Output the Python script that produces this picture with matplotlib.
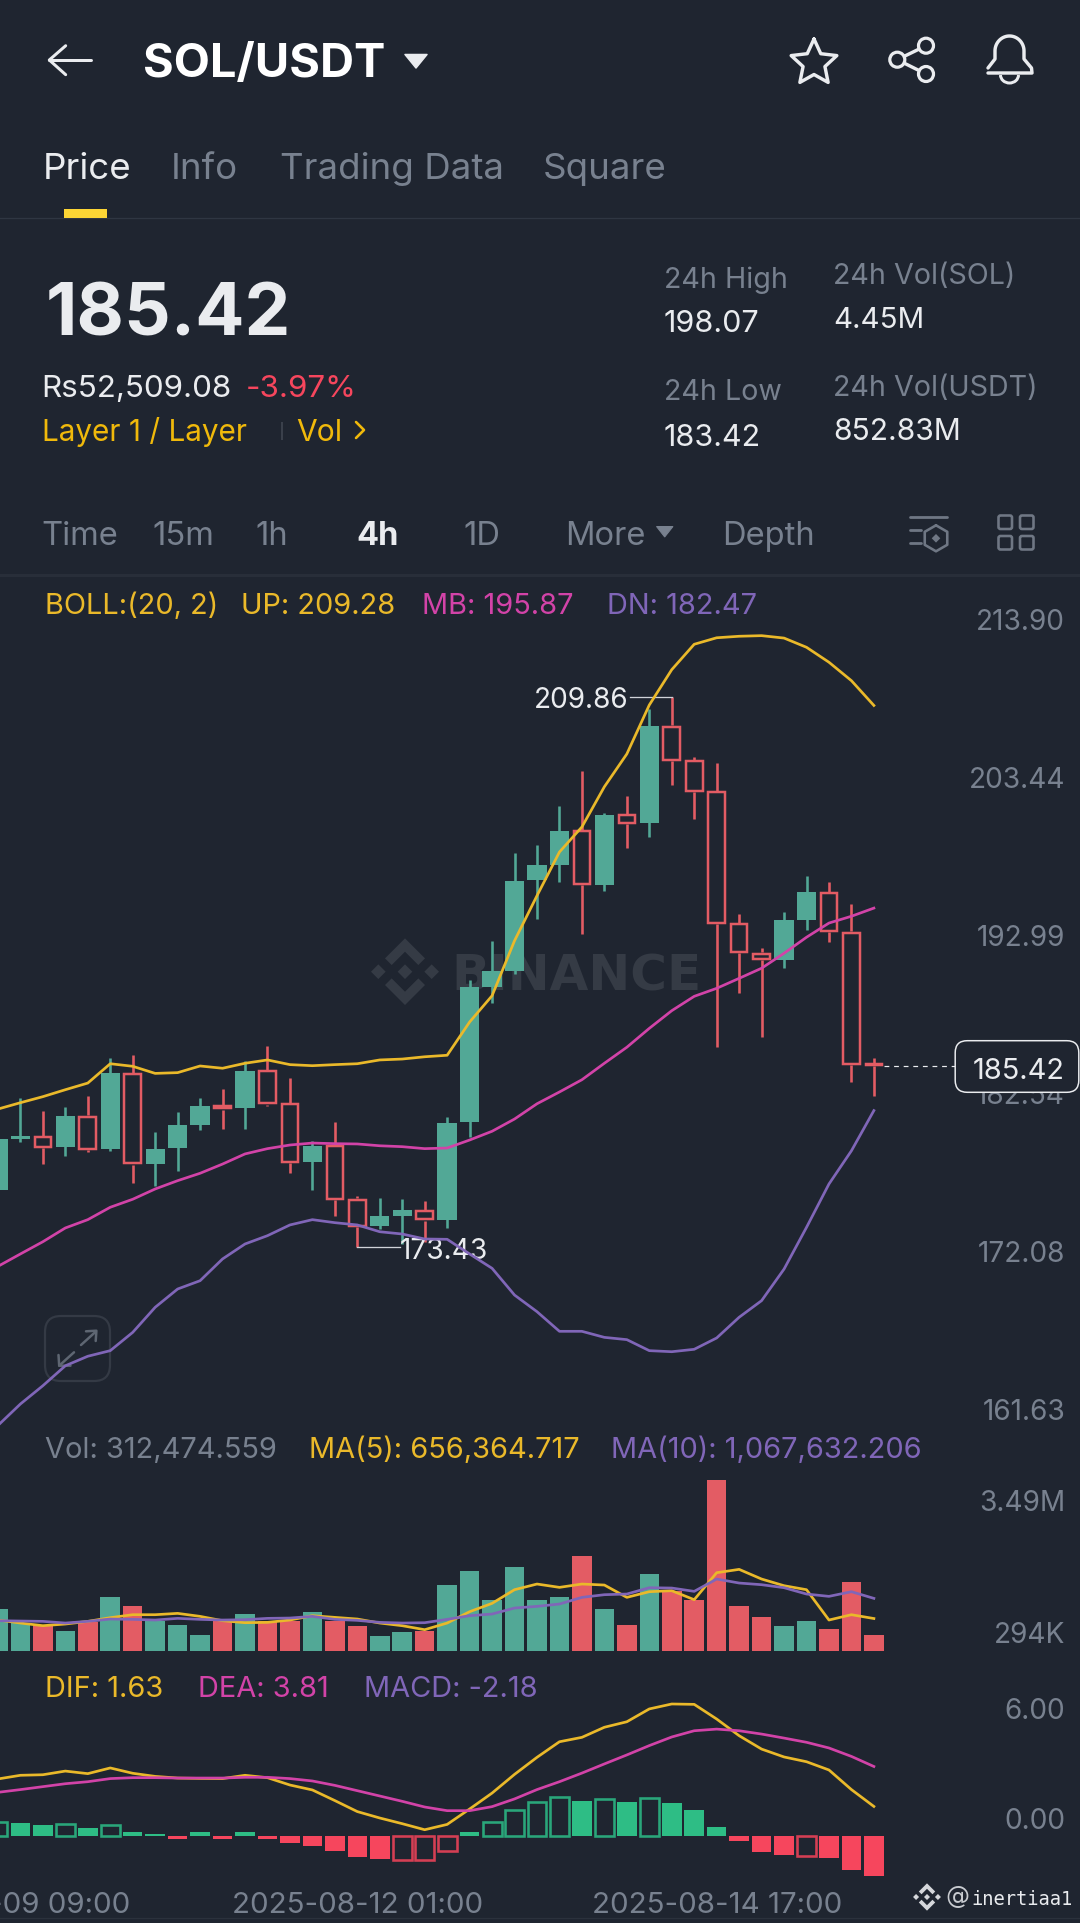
import numpy as np
import matplotlib
matplotlib.use('Agg')
import matplotlib.pyplot as plt
from matplotlib.patches import Rectangle, FancyBboxPatch, Polygon, Circle, Arc

plt.rcParams['font.family'] = ['Inter', 'Lato', 'DejaVu Sans']

BG = '#1f2530'
WHITE = '#eaecef'
GREY = '#78818f'
YELLOW = '#eab92a'
PINK = '#d243a8'
PURPLE = '#8066b8'
UP_C = '#52a896'
DOWN_C = '#e35c64'
MACD_UP = '#2ebd85'
MACD_DOWN = '#f6465d'

# 4h candles
opens = [177.23,180.59,180.81,180.08,182.16,179.95,184.96,178.93,179.97,181.51,182.86,182.66,185.15,182.99,179.05,180.19,176.66,174.81,175.51,175.91,
         175.21,181.69,190.63,191.73,197.70,198.70,201.04,197.42,202.12,201.50,207.97,205.69,203.62,194.88,192.94,192.45,195.10,196.95,194.33,185.60]
closes = [180.59,180.81,179.99,182.11,179.86,184.96,178.89,179.93,181.51,182.77,182.53,185.11,182.86,179.00,180.14,176.53,174.76,175.49,175.87,175.18,
          181.67,190.63,191.73,197.68,198.70,200.95,197.38,202.05,201.45,207.92,205.60,203.55,194.82,192.88,192.41,195.10,196.91,194.27,185.50,185.42]
highs = [180.80,183.30,182.46,182.69,183.41,185.93,186.15,181.03,182.35,183.28,183.90,185.77,186.76,184.63,180.48,181.73,176.84,176.70,176.60,176.48,
         182.06,191.11,193.71,199.50,200.07,202.65,204.92,202.14,203.31,209.05,209.86,205.85,205.45,195.48,193.21,195.59,198.01,197.58,196.14,185.95]
lows = [176.90,180.37,178.91,179.44,179.71,179.79,177.66,177.50,178.49,181.20,181.25,181.25,182.75,178.34,177.19,175.51,173.43,174.63,173.64,173.75,
        174.70,180.74,189.57,191.51,195.18,197.62,194.16,197.02,199.83,200.59,204.02,201.77,186.68,190.25,187.32,191.92,194.44,193.65,184.36,183.41]

boll_up = [182.57,182.99,183.39,183.85,184.29,185.57,185.40,184.93,184.98,185.42,185.27,185.60,185.82,185.51,185.44,185.51,185.57,185.82,185.88,186.03,
           186.13,188.33,190.07,193.71,196.69,199.58,201.24,203.90,206.07,209.31,211.65,213.33,213.76,213.86,213.90,213.74,213.13,212.14,210.92,209.28]
boll_mb = [172.16,172.98,173.79,174.70,175.25,176.07,176.60,177.28,177.83,178.32,178.93,179.60,179.95,180.19,180.32,180.28,180.26,180.14,180.08,179.95,
           179.99,180.52,181.10,181.91,182.92,183.70,184.51,185.60,186.66,187.91,189.08,190.03,190.56,191.22,191.89,192.88,193.94,194.88,195.33,195.87]
boll_dn = [161.63,163.05,164.26,165.58,166.21,166.58,167.79,169.45,170.66,171.21,172.65,173.64,174.19,174.90,175.25,175.05,174.90,174.45,174.30,173.97,
           173.95,172.98,172.03,170.26,169.16,167.86,167.86,167.46,167.31,166.58,166.51,166.67,167.42,168.79,169.89,171.98,174.74,177.61,179.81,182.47]

volume = [850000,564400,523600,394400,578000,1101600,911200,612000,523600,326400,598400,748000,598400,605200,788800,612000,503200,294000,374000,401200,
          1332800,1632000,1026800,1713600,1026800,1088000,1938000,843200,530400,1570800,1224000,1033600,3490000,904400,693600,510000,598400,435200,1407600,312475]
vol_ma5 = [625600,564400,510000,544000,598400,673200,734400,734400,761600,700400,612000,571200,578000,625600,714000,680000,646000,564400,510000,428400,
           564400,795600,965600,1244400,1360000,1292000,1360000,1339600,1088000,1203600,1224000,1040400,1591200,1659200,1462000,1326000,1244400,625600,734400,656365]
vol_ma10 = [612000,605200,598400,564400,598400,646000,639200,625600,659600,639200,625600,632400,659600,666400,700400,639200,618800,578000,564400,571200,
            639200,714000,748000,870400,904400,952000,1088000,1142400,1156000,1285200,1278400,1210400,1462000,1380400,1346400,1285200,1156000,1108400,1203600,1067632]

dif = [3.13,3.33,3.36,3.56,3.42,3.73,3.44,3.27,3.18,3.16,3.15,3.33,3.20,2.80,2.53,1.95,1.35,1.00,0.69,0.36,
       0.65,1.49,2.36,3.38,4.31,5.16,5.40,5.95,6.25,6.95,7.22,7.20,6.40,5.49,4.76,4.33,4.07,3.62,2.55,1.63]
dea = [2.40,2.55,2.71,2.87,2.98,3.15,3.20,3.20,3.18,3.18,3.18,3.22,3.22,3.15,3.02,2.78,2.49,2.20,1.91,1.60,
       1.40,1.40,1.62,2.04,2.55,2.98,3.45,3.95,4.44,4.95,5.42,5.76,5.85,5.76,5.58,5.36,5.13,4.82,4.36,3.81]
macd = [0.80,0.75,0.64,0.69,0.44,0.64,0.22,0.13,-0.16,0.22,-0.16,0.22,-0.16,-0.35,-0.51,-0.82,-1.11,-1.22,-1.27,-1.27,
        -0.80,0.22,0.76,1.45,1.87,2.16,1.95,2.04,1.85,2.07,1.84,1.44,0.51,-0.27,-0.84,-1.02,-1.05,-1.16,-1.82,-2.18]
macd_hollow = [0,3,5,18,19,20,22,23,24,25,27,29,36]

price_ticks = ['213.90','203.44','192.99','182.54','172.08','161.63']
vol_ticks = ['3.49M','294K']
macd_ticks = ['6.00','0.00']
date_labels = {0:'2025-08-09 09:00', 16:'2025-08-12 01:00', 32:'2025-08-14 17:00'}

tabs = ['Price','Info','Trading Data','Square']
intervals = ['Time','15m','1h','4h','1D','More','Depth']

W, H = 1080, 1924
PX = 0.72    # one pixel in points at dpi 100
STEP = 22.46  # candle spacing in px
X0 = -2.05
AXIS_PX = 28
LEGEND_PX = 29
LINE_W = 2.7

fig = plt.figure(figsize=(W/100, H/100), dpi=100, facecolor=BG)

def panel(top, bottom, ymax, ymin):
    ax = fig.add_axes([0, 1-bottom/H, 1, (bottom-top)/H])
    ax.set_xlim((0-X0)/STEP, (W-X0)/STEP)
    ax.set_ylim(ymin, ymax)
    ax.axis('off')
    return ax

# main chart: 15.11 px per dollar, 209.86 sits at y=697.7
ax = panel(577, 1440, 209.86-(577-697.7)/15.11, 209.86-(1440-697.7)/15.11)
ax_vol = panel(1470, 1651.7, (1651.7-1470)*20400, 0)
ax_macd = panel(1700, 1890, (1837.33-1700)/18.33, (1837.33-1890)/18.33)

ui = fig.add_axes([0, 0, 1, 1], zorder=5)
ui.set_xlim(0, W)
ui.set_ylim(H, 0)
ui.axis('off')

def label(x, y, s, px, color, weight='normal', ha='left', family=None):
    kw = {}
    if family:
        kw['family'] = family
    ui.text(x, y, s, fontsize=px*PX, color=color, fontweight=weight, ha=ha, va='baseline', **kw)

def stroke(xs, ys, color, w, a=ui, **kw):
    a.plot(xs, ys, color=color, lw=w*PX, solid_capstyle='round', solid_joinstyle='round', **kw)

def logo(a, cx, cy, s, color, z=1):
    unit = s/3.0
    dia = [(0,-22),(22,0),(0,22),(-22,0)]
    for ox in (-80, 0, 80):
        a.add_patch(Polygon([(cx+(ox+p)*unit, cy+q*unit) for p, q in dia], fc=color, ec='none', zorder=z))
    chev = [(0,-100),(60,-40),(40,-20),(0,-60),(-40,-20),(-60,-40)]
    for sign in (1, -1):
        a.add_patch(Polygon([(cx+p*unit, cy+sign*q*unit) for p, q in chev], fc=color, ec='none', zorder=z))

# watermark sits behind the candles
wm = fig.add_axes([0, 0, 1, 1], zorder=-1)
wm.set_xlim(0, W)
wm.set_ylim(H, 0)
wm.axis('off')
logo(wm, 405, 972.7, 1, '#353b45')
wm.text(451, 991, 'BINANCE', fontsize=50*PX, color='#353b45', fontweight='bold', family='DejaVu Sans', ha='left', va='baseline')
wm.add_patch(FancyBboxPatch((60, 1332), 35, 35, boxstyle='round,pad=15,rounding_size=16', fc='none', ec='#343a45', lw=2.2*PX))
stroke([81, 95.7], [1346, 1332.7], '#5e6672', 2.5, a=wm)
stroke([86, 96.4, 95.7], [1332.3, 1331.7, 1342], '#5e6672', 2.5, a=wm)
stroke([74, 59.2], [1353.3, 1366.7], '#5e6672', 2.5, a=wm)
stroke([58.5, 59.2, 70.5], [1356, 1366.7, 1366.7], '#5e6672', 2.5, a=wm)
for a in (ax, ax_vol, ax_macd):
    a.patch.set_alpha(0)

# candles
idx = np.arange(len(opens))
for i in idx:
    o, c, h, l = opens[i], closes[i], highs[i], lows[i]
    top, bot = max(o, c), min(o, c)
    if c >= o:
        ax.vlines(i, l, h, color=UP_C, lw=2.6*PX, zorder=2)
        ax.add_patch(Rectangle((i-0.43, bot), 0.86, top-bot, fc=UP_C, ec='none', zorder=2))
    else:
        ax.vlines(i, top, h, color=DOWN_C, lw=2.6*PX, zorder=2)
        ax.vlines(i, l, bot, color=DOWN_C, lw=2.6*PX, zorder=2)
        inset = min(0.083, (top-bot)/4)
        ax.add_patch(Rectangle((i-0.37, bot+inset), 0.74, top-bot-2*inset, fc='none', ec=DOWN_C, lw=2.5*PX, zorder=2))

# high / low callouts
hi = int(np.argmax(highs))
lo = int(np.argmin(lows))
ax.plot([hi-1.85, hi], [highs[hi], highs[hi]], color='#d0d3d8', lw=1.3*PX, zorder=2)
ax.plot([lo, lo+1.89], [lows[lo], lows[lo]], color='#d0d3d8', lw=1.3*PX, zorder=2)
ax.annotate(f'{highs[hi]:.2f}', xy=(hi-1.85, highs[hi]), xytext=(-2*PX, -10.6*PX), textcoords='offset points',
            ha='right', va='baseline', fontsize=AXIS_PX*PX, color=WHITE, zorder=2)
ax.annotate(f'{lows[lo]:.2f}', xy=(lo+1.89, lows[lo]), xytext=(0, -10.7*PX), textcoords='offset points',
            ha='left', va='baseline', fontsize=AXIS_PX*PX, color=WHITE, zorder=2)

for series, col in ((boll_up, YELLOW), (boll_mb, PINK), (boll_dn, PURPLE)):
    ax.plot(idx, series, color=col, lw=LINE_W*PX, zorder=3, solid_joinstyle='round')

for t in price_ticks:
    ax.annotate(t, xy=(1, float(t)), xycoords=('axes fraction', 'data'), xytext=(-15*PX, 6.8*PX), textcoords='offset points',
                ha='right', va='baseline', fontsize=AXIS_PX*PX, color=GREY, annotation_clip=False)

# volume
for i in idx:
    col = UP_C if closes[i] >= opens[i] else DOWN_C
    ax_vol.bar(i, volume[i], width=0.87, color=col, zorder=2)
ax_vol.plot(idx, vol_ma5, color=YELLOW, lw=LINE_W*PX, zorder=3)
ax_vol.plot(idx, vol_ma10, color=PURPLE, lw=LINE_W*PX, zorder=3)

# macd histogram
for i in idx:
    col = MACD_UP if macd[i] >= 0 else MACD_DOWN
    if i in macd_hollow:
        col = '#2aa67a' if macd[i] >= 0 else '#d43f54'
        ax_macd.add_patch(Rectangle((i-0.42, 0), 0.84, macd[i], fc='none', ec=col, lw=2.6*PX, zorder=2))
    else:
        ax_macd.bar(i, macd[i], width=0.87, color=col, zorder=2)
ax_macd.plot(idx, dif, color=YELLOW, lw=LINE_W*PX, zorder=3)
ax_macd.plot(idx, dea, color=PINK, lw=LINE_W*PX, zorder=3)

for t in macd_ticks:
    ax_macd.annotate(t, xy=(1, float(t)), xycoords=('axes fraction', 'data'), xytext=(-15*PX, 8.8*PX), textcoords='offset points',
                     ha='right', va='baseline', fontsize=AXIS_PX*PX, color=GREY, annotation_clip=False)
label(1065, 1510.7, vol_ticks[0], AXIS_PX, GREY, ha='right')
label(1065, 1643.3, vol_ticks[1], AXIS_PX, GREY, ha='right')

for i, s in date_labels.items():
    label(X0+STEP*i, 1912.7, s, 29.5, GREY, ha='center')
ui.plot([0, W], [1919, 1919], color='#2b313c', lw=1.2*PX)

# current price tag
last = closes[-1]
ax.plot([len(closes)-1+0.45, (955-X0)/STEP], [last, last], color=WHITE, lw=1.2*PX, dashes=(4, 4), zorder=3)
ui.add_patch(FancyBboxPatch((967, 1053.5), 100, 28, boxstyle='round,pad=11.8,rounding_size=12', fc=BG, ec=WHITE, lw=1.5*PX))
label(1064.5, 1079, f'{last:.2f}', AXIS_PX+1, WHITE, ha='right')

# legend rows
label(45, 614.3, 'BOLL:(20, 2)', LEGEND_PX, YELLOW)
label(241, 614.3, 'UP: 209.28', LEGEND_PX, YELLOW)
label(422, 614.3, 'MB: 195.87', LEGEND_PX, PINK)
label(607, 614.3, 'DN: 182.47', LEGEND_PX, PURPLE)
label(45, 1457.7, 'Vol: 312,474.559', LEGEND_PX, GREY)
label(309, 1457.7, 'MA(5): 656,364.717', LEGEND_PX, YELLOW)
label(611, 1457.7, 'MA(10): 1,067,632.206', LEGEND_PX, PURPLE)
label(45, 1696.7, 'DIF: 1.63', LEGEND_PX, YELLOW)
label(198.5, 1696.7, 'DEA: 3.81', LEGEND_PX, PINK)
label(364, 1696.7, 'MACD: -2.18', LEGEND_PX, PURPLE)

# top bar
stroke([90.7, 49.3], [61, 61], WHITE, 3)
stroke([65.7, 49.3, 65.7], [46.7, 61, 75.7], WHITE, 3)
label(143, 77.3, 'SOL/USDT', 47, '#ffffff', weight='bold')
ui.add_patch(Polygon([(405, 55.5), (427, 55.5), (416, 69)], fc=WHITE, ec=WHITE, lw=1.5*PX, joinstyle='round'))

ang = np.pi/2 + np.arange(11)*np.pi/5
rad = np.where(np.arange(11) % 2 == 0, 24, 11.5)
stroke(814+rad*np.cos(ang), 64-rad*np.sin(ang), WHITE, 3.4)
stroke([897.3, 926], [60.7, 46.7], WHITE, 3.4)
stroke([897.3, 926], [60.7, 75], WHITE, 3.4)
for cx, cy in ((897.3, 60.7), (926, 46.7), (926, 75)):
    ui.add_patch(Circle((cx, cy), 7.5, fc=BG, ec=WHITE, lw=3.2*PX, zorder=3))
t = np.linspace(np.pi, 0, 40)
bell_x = np.r_[988, 995, 1009.5+14.5*np.cos(t), 1024, 1031.5, 1032, 988]
bell_y = np.r_[69, 60, 52-15*np.sin(t), 60, 69, 74, 74]
stroke(bell_x, bell_y, WHITE, 3.4)
ui.add_patch(Arc((1009.5, 76), 18, 16, theta1=0, theta2=180, ec=WHITE, lw=3*PX))

# tabs
for s, x in zip(tabs, (43, 170.5, 280.5, 543)):
    label(x, 179, s, 36.7, WHITE if s == 'Price' else GREY)
ui.add_patch(Rectangle((64.3, 210.3), 42.4, 8.7, fc='#fcd535', ec='none', zorder=3))
ui.plot([0, W], [219.3, 219.3], color='#2f3642', lw=1.3*PX)

# price block
label(45.5, 335, '185.42', 73, WHITE, weight='bold')
label(41.5, 396.6, 'Rs52,509.08', 31.4, WHITE)
label(245.5, 396.6, '-3.97%', 31.4, MACD_DOWN)
label(41.5, 441, 'Layer 1 / Layer', 29.7, '#f0b90b')
ui.plot([282, 282], [424, 440], color='#3a404b', lw=2*PX)
label(296, 441, 'Vol', 30, '#f0b90b')
stroke([356, 364, 356], [423, 431, 439], '#f0b90b', 2.6)
label(663.5, 287.5, '24h High', 28.7, GREY)
label(663.5, 332, '198.07', 30.5, WHITE)
label(833, 283.5, '24h Vol(SOL)', 28.7, GREY)
label(833, 327.8, '4.45M', 29.5, WHITE)
label(663.5, 400.5, '24h Low', 28.7, GREY)
label(663.5, 445.6, '183.42', 30.5, WHITE)
label(833, 395.8, '24h Vol(USDT)', 28.7, GREY)
label(833, 440.5, '852.83M', 30, WHITE)

# interval row
for s, x in zip(intervals, (41.5, 152, 255.5, 356, 463, 565, 722)):
    label(x, 545, s, 32.7, WHITE if s == '4h' else GREY, weight='bold' if s == '4h' else 'normal')
ui.add_patch(Polygon([(656.5, 527.5), (673, 527.5), (664.7, 538)], fc=GREY, ec=GREY, lw=1*PX))
ICON = '#6f7784'
stroke([909.5, 947], [518, 518], ICON, 2.8)
stroke([909.5, 921], [531.3, 531.3], ICON, 2.8)
stroke([909.5, 921], [544.3, 544.3], ICON, 2.8)
a6 = np.pi/2 + np.arange(7)*np.pi/3
stroke(936+13*np.cos(a6), 539.3-13*np.sin(a6), ICON, 2.6)
ui.add_patch(Polygon([(936, 535), (940.3, 539.3), (936, 543.6), (931.7, 539.3)], fc=ICON, ec='none'))
for x in (998.5, 1020):
    for y in (516.5, 537):
        ui.add_patch(FancyBboxPatch((x+1.5, y+1.5), 10.5, 10.5, boxstyle='round,pad=1.5,rounding_size=2', fc='none', ec=ICON, lw=2.6*PX))
ui.plot([0, W], [576, 576], color='#282e39', lw=3*PX)

# account tag in the corner
logo(ui, 927, 1898, 0.41, '#d5d7db')
label(945.5, 1904.5, '@', 24, '#c8cbd0', family='DejaVu Sans')
label(971, 1905, 'inertiaa1', 18.8, WHITE, family='DejaVu Sans Mono')

fig.savefig('out.png', dpi=100, facecolor=BG)
